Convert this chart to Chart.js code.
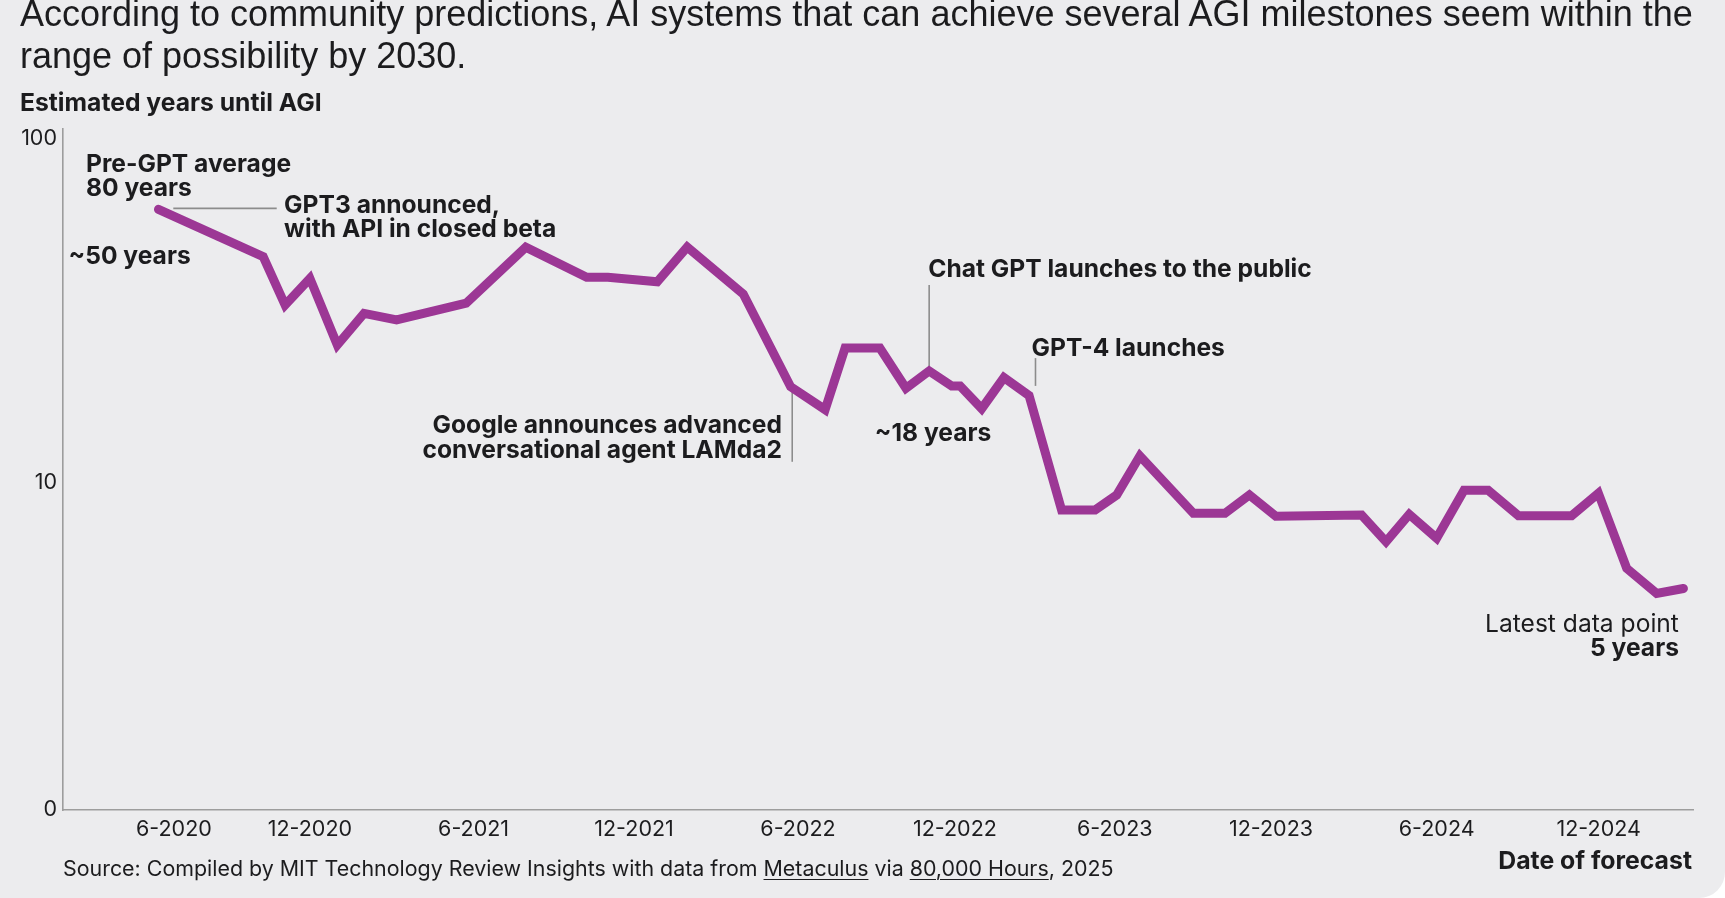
<!DOCTYPE html>
<html>
<head>
<meta charset="utf-8">
<script src="https://cdn.jsdelivr.net/npm/chart.js@4.4.1/dist/chart.umd.min.js"></script>
<style>
  html, body { margin:0; padding:0; background:#ffffff; }
  #wrap { position:relative; width:1725px; height:898px; background:#ececee; border-radius:0 0 26px 0; overflow:hidden; }
  #c { position:absolute; left:0; top:0; }
  .t { position:absolute; color:#1c1c1e; white-space:nowrap; }
  #title { left:20px; top:-7px; font-family:"Liberation Sans", Arial, sans-serif; font-size:36px; line-height:41.7px; }
  #sub { left:20px; top:87px; font-family:Inter, "Liberation Sans", sans-serif; font-weight:700; font-size:24.7px; }
  #src { left:63px; top:855px; font-family:Inter, "Liberation Sans", sans-serif; font-size:21.4px; }
  #src u { text-underline-offset:3px; text-decoration-thickness:1px; }
  #xt { right:33px; top:845px; font-family:Inter, "Liberation Sans", sans-serif; font-weight:700; font-size:24.8px; }
</style>
</head>
<body>
<div id="wrap">
  <canvas id="c" width="1725" height="898"></canvas>
  <div class="t" id="title">According to community predictions, AI systems that can achieve several AGI milestones seem within the<br>range of possibility by 2030.</div>
  <div class="t" id="sub">Estimated years until AGI</div>
  <div class="t" id="xt">Date of forecast</div>
  <div class="t" id="src">Source: Compiled by MIT Technology Review Insights with data from <u>Metaculus</u> via <u>80,000 Hours</u>, 2025</div>
</div>
<script>
// Forecast dates (decimal years) and estimated years until AGI
const forecastDates = [2020.488, 2020.813, 2020.881, 2020.958, 2021.043, 2021.126, 2021.227, 2021.443, 2021.628, 2021.817,
  2021.883, 2022.036, 2022.129, 2022.303, 2022.450, 2022.557, 2022.619, 2022.727, 2022.808, 2022.880,
  2022.950, 2022.976, 2023.043, 2023.112, 2023.190, 2023.291, 2023.395, 2023.462, 2023.534, 2023.700,
  2023.798, 2023.874, 2023.956, 2024.222, 2024.298, 2024.370, 2024.455, 2024.540, 2024.615, 2024.709,
  2024.874, 2024.957, 2025.045, 2025.138, 2025.221];
const yearsUntilAGI = [62.2, 45.3, 32.8, 39.2, 25.1, 31.0, 29.7, 33.2, 48.3, 39.5,
  39.5, 38.3, 48.3, 35.3, 19.0, 16.3, 24.6, 24.6, 18.8, 21.1,
  19.1, 19.1, 16.4, 20.2, 17.9, 8.33, 8.33, 9.21, 11.96, 8.15,
  8.15, 9.21, 7.99, 8.06, 6.74, 8.09, 6.90, 9.50, 9.50, 8.02,
  8.02, 9.32, 5.64, 4.77, 4.93];

// X tick labels and where they sit (decimal years)
const xTickLabels = ["6-2020", "12-2020", "6-2021", "12-2021", "6-2022", "12-2022", "6-2023", "12-2023", "6-2024", "12-2024"];
const xTickValues = [2020.536, 2020.958, 2021.466, 2021.964, 2022.473, 2022.960, 2023.456, 2023.941, 2024.455, 2024.958];
// Y tick labels (log axis; bottom of axis labelled 0)
const yTickLabels = ["0", "10", "100"];
const yTickValues = [1.121, 10, 100];
const xRange = [2020.1917, 2025.2507];
const yRange = [1.121, 106.9];

// Annotation texts: lines, x (year), y (value at first baseline), align, weights
const noteTexts = [
  { lines: ["Pre-GPT average", "80 years"], x: 2020.263, y: 80.0, align: "left", bold: [true, true] },
  { lines: ["GPT3 announced,", "with API in closed beta"], x: 2020.878, y: 60.6, align: "left", bold: [true, true] },
  { lines: ["~50 years"], x: 2020.588, y: 43.1, align: "right", bold: [true] },
  { lines: ["Chat GPT launches to the public"], x: 2022.877, y: 39.5, align: "left", bold: [true] },
  { lines: ["GPT-4 launches"], x: 2023.198, y: 23.4, align: "left", bold: [true] },
  { lines: ["Google announces advanced", "conversational agent LAMda2"], x: 2022.423, y: 13.9, align: "right", bold: [true, true] },
  { lines: ["~18 years"], x: 2022.892, y: 13.2, align: "center", bold: [true] },
  { lines: ["Latest data point", "5 years"], x: 2025.207, y: 3.69, align: "right", bold: [false, true] }
];
// Connector lines: [x1, y1, x2, y2] in data units
const connectorLines = [
  [2020.534, 62.6, 2020.855, 62.6],
  [2022.880, 37.5, 2022.880, 21.7],
  [2023.210, 23.0, 2023.210, 19.1],
  [2022.455, 18.8, 2022.455, 11.5]
];

const annotPlugin = {
  id: "annot",
  beforeDatasetsDraw(chart) {
    const { ctx, scales: { x, y } } = chart;
    ctx.save();
    ctx.strokeStyle = "#8c8c8c";
    ctx.lineWidth = 1.6;
    connectorLines.forEach(c => {
      ctx.beginPath();
      ctx.moveTo(x.getPixelForValue(c[0]), y.getPixelForValue(c[1]));
      ctx.lineTo(x.getPixelForValue(c[2]), y.getPixelForValue(c[3]));
      ctx.stroke();
    });
    ctx.restore();
  },
  afterDatasetsDraw(chart) {
    const { ctx, scales: { x, y } } = chart;
    ctx.save();
    ctx.fillStyle = "#1c1c1e";
    ctx.textBaseline = "alphabetic";
    noteTexts.forEach(n => {
      const px = x.getPixelForValue(n.x);
      const py = y.getPixelForValue(n.y);
      ctx.textAlign = n.align;
      n.lines.forEach((line, i) => {
        ctx.font = (n.bold[i] ? "700 " : "400 ") + "24.6px Inter, 'Liberation Sans', sans-serif";
        ctx.fillText(line, px, py + i * 24.3);
      });
    });
    ctx.restore();
  }
};

new Chart(document.getElementById("c"), {
  type: "line",
  data: {
    datasets: [{
      data: forecastDates.map((d, i) => ({ x: d, y: yearsUntilAGI[i] })),
      borderColor: "#9c3795",
      borderWidth: 9,
      borderCapStyle: "round",
      borderJoinStyle: "miter",
      pointRadius: 0,
      tension: 0,
      fill: false
    }]
  },
  options: {
    responsive: false,
    animation: false,
    devicePixelRatio: 1,
    layout: { padding: { top: 128.3, right: 32, left: 0, bottom: 0 } },
    plugins: { legend: { display: false }, tooltip: { enabled: false } },
    scales: {
      x: {
        type: "linear",
        min: xRange[0], max: xRange[1],
        afterBuildTicks: s => { s.ticks = xTickValues.map(v => ({ value: v })); },
        afterFit: s => { s.height = 88; },
        ticks: {
          autoSkip: false, maxRotation: 0, padding: 7,
          color: "#1c1c1e",
          font: { family: "Inter, 'Liberation Sans', sans-serif", size: 21.5 },
          callback: (v, i) => xTickLabels[i]
        },
        grid: { display: false, drawTicks: false },
        border: { color: "#9d9d9d", width: 1.6 }
      },
      y: {
        type: "logarithmic",
        min: yRange[0], max: yRange[1],
        afterBuildTicks: s => { s.ticks = yTickValues.map(v => ({ value: v })); },
        afterFit: s => { s.width = 63; },
        ticks: {
          autoSkip: false, padding: 6,
          color: "#1c1c1e",
          font: { family: "Inter, 'Liberation Sans', sans-serif", size: 21.5 },
          callback: (v, i) => yTickLabels[i]
        },
        grid: { display: false, drawTicks: false },
        border: { color: "#9d9d9d", width: 1.6 }
      }
    }
  },
  plugins: [annotPlugin]
});
</script>
</body>
</html>
